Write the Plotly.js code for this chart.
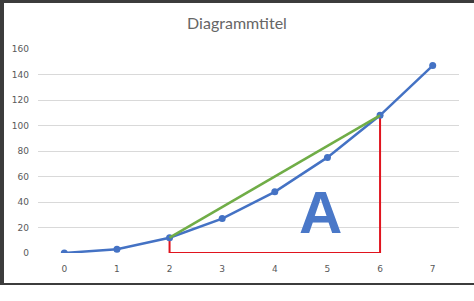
<!DOCTYPE html>
<html><head><meta charset="utf-8">
<script src="https://cdn.plot.ly/plotly-3.0.1.min.js"></script>
<style>
html,body{margin:0;padding:0;background:#fff;}
#wrap{position:relative;width:474px;height:301px;overflow:hidden;}
#chart{position:absolute;left:0;top:0;width:474px;height:301px;}
.fr{position:absolute;background:#3c3c3c;}
</style></head><body>
<div id="wrap"><div id="chart"></div>
<div class="fr" style="left:0;top:0;width:474px;height:3px;"></div>
<div class="fr" style="left:0;top:0;width:4px;height:285px;"></div>
<div class="fr" style="left:0;top:283px;width:474px;height:2px;"></div>
</div>
<script>
const categories = [0,1,2,3,4,5,6,7];
const curveValues = [0,3,12,27,48,75,108,147];
const secantX = [2,6];
const secantY = [12,108];
const redX = [2,2,6,6];
const redY = [12,0,0,108];
const xTickLabels = ['0','1','2','3','4','5','6','7'];
const yTicks = [0,20,40,60,80,100,120,140,160];
const titleText = 'Diagrammtitel';
const letterLabel = 'A';
const letterPos = {x:4.87, y:32};

const traces = [
  {x:redX, y:redY, mode:'lines', line:{color:'#e0141e', width:2}, hoverinfo:'skip'},
  {x:categories, y:curveValues, mode:'lines+markers', line:{color:'#4472c4', width:2.5}, marker:{color:'#4472c4', size:7}},
  {x:secantX, y:secantY, mode:'lines', line:{color:'#70ad47', width:2.5}}
];
const layout = {
  width:474, height:301,
  margin:{l:38, r:15, t:49, b:48},
  paper_bgcolor:'#fff', plot_bgcolor:'#fff',
  showlegend:false,
  title:{text:titleText, x:0.5, xanchor:'center', y:0.922, yanchor:'middle', font:{family:'Lato, Open Sans, sans-serif', size:16, color:'#666666'}},
  xaxis:{range:[-0.5,7.5], tickvals:categories, ticktext:xTickLabels, showgrid:false, zeroline:false, showline:false,
    ticks:'', tickfont:{family:'DejaVu Sans, sans-serif', size:9, color:'#595959'}, ticklabelstandoff:9},
  yaxis:{range:[0,160], tickvals:yTicks, showgrid:true, gridcolor:'#d9d9d9', gridwidth:1, zeroline:false, showline:false,
    ticks:'', tickfont:{family:'DejaVu Sans, sans-serif', size:9, color:'#595959'}, ticklabelstandoff:8},
  annotations:[{x:letterPos.x, y:letterPos.y, xref:'x', yref:'y', text:'<b>'+letterLabel+'</b>', showarrow:false,
    font:{family:'Liberation Sans, Arial, sans-serif', size:60, color:'#4a78c8'}}]
};
Plotly.newPlot('chart', traces, layout, {staticPlot:true});
</script>
</body></html>
